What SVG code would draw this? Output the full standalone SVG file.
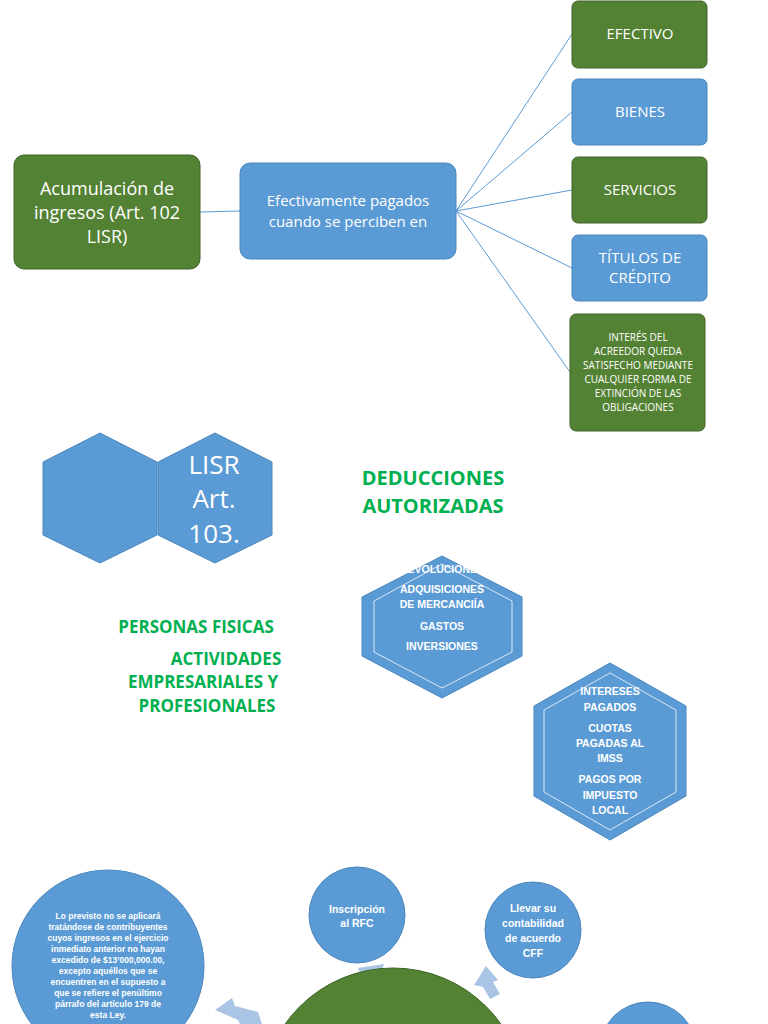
<svg xmlns="http://www.w3.org/2000/svg" width="768" height="1024" viewBox="0 0 768 1024">
<style>
.g{fill:#548235;stroke:#3f6428;stroke-width:1}
.b{fill:#5b9bd5;stroke:#4a86bd;stroke-width:1}
.t{font-family:"Open Sans","Liberation Sans",sans-serif;fill:#fff;text-anchor:middle}
.tb{font-family:"Liberation Sans","Open Sans",sans-serif;fill:#fff;text-anchor:middle;font-weight:bold}
.gr{font-family:"Open Sans","Liberation Sans",sans-serif;fill:#00b050;font-weight:bold;text-anchor:middle}
.c{stroke:#5b9bd5;stroke-width:1;fill:none}
.ar{fill:#a9c4e4}
.in{fill:none;stroke:#dbe8f5;stroke-width:1}
</style>
<g id="connectors">
<line class="c" x1="200" y1="212" x2="240" y2="211"/>
<line class="c" x1="456" y1="211" x2="572" y2="34"/>
<line class="c" x1="456" y1="211" x2="572" y2="112"/>
<line class="c" x1="456" y1="211" x2="572" y2="190"/>
<line class="c" x1="456" y1="211" x2="572" y2="268"/>
<line class="c" x1="456" y1="211" x2="570" y2="372"/>
</g>
<g id="n1"><rect class="g" x="14" y="155" width="186" height="114" rx="10"/>
<text class="t" font-size="18"><tspan x="107" y="195">Acumulación de</tspan><tspan x="107" y="219">ingresos (Art. 102</tspan><tspan x="107" y="243">LISR)</tspan></text></g>
<g id="n2"><rect class="b" x="240" y="163" width="216" height="96" rx="10"/>
<text class="t" font-size="15"><tspan x="348" y="206">Efectivamente pagados</tspan><tspan x="348" y="227">cuando se perciben en</tspan></text></g>
<g id="n3"><rect class="g" x="572" y="1" width="135" height="67" rx="6"/><text class="t" font-size="15" x="640" y="39">EFECTIVO</text></g>
<g id="n4"><rect class="b" x="572" y="79" width="135" height="66" rx="6"/><text class="t" font-size="15" x="640" y="117">BIENES</text></g>
<g id="n5"><rect class="g" x="572" y="157" width="135" height="66" rx="6"/><text class="t" font-size="15" x="640" y="195">SERVICIOS</text></g>
<g id="n6"><rect class="b" x="572" y="235" width="135" height="66" rx="6"/><text class="t" font-size="15"><tspan x="640" y="263">TÍTULOS DE</tspan><tspan x="640" y="283">CRÉDITO</tspan></text></g>
<g id="n7"><rect class="g" x="570" y="314" width="135" height="117" rx="6"/><text class="t" font-size="10"><tspan x="638" y="341">INTERÉS DEL</tspan><tspan x="638" y="355">ACREEDOR QUEDA</tspan><tspan x="638" y="369">SATISFECHO MEDIANTE</tspan><tspan x="638" y="383">CUALQUIER FORMA DE</tspan><tspan x="638" y="397">EXTINCIÓN DE LAS</tspan><tspan x="638" y="411">OBLIGACIONES</tspan></text></g>
<g id="lisr">
<polygon class="b" points="100,433 157,462 157,535 100,563 43,535 43,462"/>
<polygon class="b" points="215,433 272,462 272,535 215,563 158,535 158,462"/>
<text class="t" font-size="26"><tspan x="214" y="474">LISR</tspan><tspan x="214" y="508">Art.</tspan><tspan x="214" y="543">103.</tspan></text>
</g>
<g id="titles">
<text class="gr" font-size="20"><tspan x="433" y="485">DEDUCCIONES</tspan><tspan x="433" y="513">AUTORIZADAS</tspan></text>
<text class="gr" font-size="17" x="196" y="633">PERSONAS FISICAS</text>
<text class="gr" font-size="17"><tspan x="226" y="665">ACTIVIDADES</tspan><tspan x="203" y="688">EMPRESARIALES Y</tspan><tspan x="207" y="712">PROFESIONALES</tspan></text>
</g>
<g id="hex1">
<polygon class="b" points="442,556 522,597 522,656 442,698 362,656 362,597"/>
<polygon class="in" points="442,564 512,601 512,652 442,688 374,652 374,601"/>
<text class="tb" font-size="10.5"><tspan x="442" y="573">DEVOLUCIONES</tspan><tspan x="442" y="593">ADQUISICIONES</tspan><tspan x="442" y="608">DE MERCANCIÍA</tspan><tspan x="442" y="630">GASTOS</tspan><tspan x="442" y="650">INVERSIONES</tspan></text>
</g>
<g id="hex2">
<polygon class="b" points="610,663 686,706 686,796 610,840 534,796 534,706"/>
<polygon class="in" points="610,673 676,710 676,792 610,830 544,792 544,710"/>
<text class="tb" font-size="10.5"><tspan x="610" y="695">INTERESES</tspan><tspan x="610" y="711">PAGADOS</tspan><tspan x="610" y="732">CUOTAS</tspan><tspan x="610" y="747">PAGADAS AL</tspan><tspan x="610" y="762">IMSS</tspan><tspan x="610" y="783">PAGOS POR</tspan><tspan x="610" y="799">IMPUESTO</tspan><tspan x="610" y="814">LOCAL</tspan></text>
</g>
<g id="arrows">
<polygon class="ar" points="358,968 384,964 382,970 360,973"/>
<polygon class="ar" points="474,985 486,966 498,980 493,982 500,994 490,999 483,987"/>
<polygon class="ar" points="215,1010 232,998 235,1006 258,1012 262,1024 240,1024 238,1020"/>
</g>
<g id="center"><circle class="g" cx="393" cy="1100" r="132"/></g>
<g id="c1"><circle class="b" cx="108" cy="966" r="96"/>
<text class="tb" font-size="8.5"><tspan x="108" y="919">Lo previsto no se aplicará</tspan><tspan x="108" y="930">tratándose de contribuyentes</tspan><tspan x="108" y="941">cuyos ingresos en el ejercicio</tspan><tspan x="108" y="952">inmediato anterior no hayan</tspan><tspan x="108" y="963">excedido de $13’000,000.00,</tspan><tspan x="108" y="974">excepto aquéllos que se</tspan><tspan x="108" y="985">encuentren en el supuesto a</tspan><tspan x="108" y="996">que se refiere el penúltimo</tspan><tspan x="108" y="1007">párrafo del artículo 179 de</tspan><tspan x="108" y="1018">esta Ley.</tspan></text></g>
<g id="c2"><circle class="b" cx="357" cy="915" r="48"/><text class="tb" font-size="10.5"><tspan x="357" y="913">Inscripción</tspan><tspan x="357" y="927">al RFC</tspan></text></g>
<g id="c3"><circle class="b" cx="533" cy="930" r="48"/><text class="tb" font-size="10.5"><tspan x="533" y="912">Llevar su</tspan><tspan x="533" y="927">contabilidad</tspan><tspan x="533" y="942">de acuerdo</tspan><tspan x="533" y="957">CFF</tspan></text></g>
<g id="c4"><circle class="b" cx="648" cy="1050" r="48"/></g>
</svg>
